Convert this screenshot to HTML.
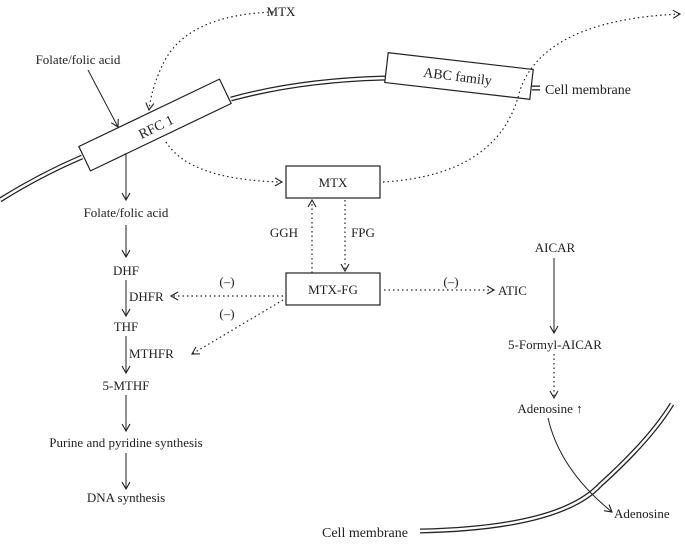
<!DOCTYPE html>
<html><head><style>
html,body{margin:0;padding:0;background:#fff;}
svg{display:block;}
text{font-family:"Liberation Serif",serif;font-size:13px;fill:#222;}
</style></head><body>
<svg width="685" height="545" viewBox="0 0 685 545" xmlns="http://www.w3.org/2000/svg">
<defs>
<marker id="a" markerWidth="10" markerHeight="10" refX="8" refY="5" orient="auto" markerUnits="userSpaceOnUse">
<path d="M1,1 L8,5 L1,9" fill="none" stroke="#222" stroke-width="1.1"/></marker>
</defs>
<g fill="none" stroke="#222">
<path d="M0,200 Q40,175 82,157" stroke-width="5"/>
<path d="M0,200 Q40,175 82,157" stroke="#fff" stroke-width="2.4"/>
<path d="M231,99 Q300,80 387,78" stroke-width="5"/>
<path d="M231,99 Q300,80 387,78" stroke="#fff" stroke-width="2.4"/>
<path d="M532,88 L540,88" stroke-width="5"/>
<path d="M532,88 L540,88" stroke="#fff" stroke-width="2.4"/>
<path d="M420,531 Q560,528 600,485 Q650,440 672,404" stroke-width="5"/>
<path d="M420,531 Q560,528 600,485 Q650,440 672,404" stroke="#fff" stroke-width="2.4"/>
<g transform="translate(155,125) rotate(-25.6)"><rect x="-78" y="-13.5" width="156" height="27" fill="#fff" stroke-width="1.2"/></g>
<g transform="translate(459,76) rotate(6.6)"><rect x="-73" y="-15" width="146" height="30" fill="#fff" stroke-width="1.2"/></g>
<rect x="286" y="166" width="94" height="32" fill="#fff" stroke-width="1.2"/>
<rect x="286" y="273" width="94" height="32" fill="#fff" stroke-width="1.2"/>
<path d="M88,70 L118,127" marker-end="url(#a)"/>
<path d="M126,154 L126,200" marker-end="url(#a)"/>
<path d="M126,225 L126,257" marker-end="url(#a)"/>
<path d="M126,280 L126,316" marker-end="url(#a)"/>
<path d="M126,336 L126,373" marker-end="url(#a)"/>
<path d="M126,395 L126,431" marker-end="url(#a)"/>
<path d="M126,453 L126,489" marker-end="url(#a)"/>
<path d="M554,258 L554,333" marker-end="url(#a)"/>
<path d="M548,418 Q560,470 612,512" marker-end="url(#a)"/>
<g stroke-dasharray="1.5,3" stroke-width="1.2">
<path d="M273,12 Q190,15 165,60 Q152,85 149,110" marker-end="url(#a)"/>
<path d="M166,142 Q190,180 282,182" marker-end="url(#a)"/>
<path d="M383,182 Q500,175 520,90 Q545,20 680,14" marker-end="url(#a)"/>
<path d="M312,273 L312,200" marker-end="url(#a)"/>
<path d="M345,200 L345,271" marker-end="url(#a)"/>
<path d="M283,296 L171,296" marker-end="url(#a)"/>
<path d="M283,300 L192,354" marker-end="url(#a)"/>
<path d="M384,290 L494,290" marker-end="url(#a)"/>
<path d="M554,354 L554,398" marker-end="url(#a)"/>
</g>
</g>
<text x="78" y="64" text-anchor="middle">Folate/folic acid</text>
<text x="281" y="16" text-anchor="middle">MTX</text>
<text transform="translate(158,131) rotate(-26)" text-anchor="middle" style="font-size:14px">RFC 1</text>
<text transform="translate(457,81) rotate(7)" text-anchor="middle" style="font-size:14px">ABC family</text>
<text x="545" y="94" style="font-size:14px">Cell membrane</text>
<text x="333" y="187" text-anchor="middle">MTX</text>
<text x="333" y="294" text-anchor="middle">MTX-FG</text>
<text x="284" y="237" text-anchor="middle">GGH</text>
<text x="363" y="237" text-anchor="middle">FPG</text>
<text x="126" y="217" text-anchor="middle">Folate/folic acid</text>
<text x="126" y="275" text-anchor="middle">DHF</text>
<text x="129" y="301">DHFR</text>
<text x="126" y="331" text-anchor="middle">THF</text>
<text x="129" y="358">MTHFR</text>
<text x="126" y="390" text-anchor="middle">5-MTHF</text>
<text x="126" y="447" text-anchor="middle">Purine and pyridine synthesis</text>
<text x="126" y="502" text-anchor="middle">DNA synthesis</text>
<text x="227" y="286" text-anchor="middle">(–)</text>
<text x="227" y="318" text-anchor="middle">(–)</text>
<text x="451" y="286" text-anchor="middle">(–)</text>
<text x="498" y="295">ATIC</text>
<text x="555" y="252" text-anchor="middle">AICAR</text>
<text x="555" y="349" text-anchor="middle">5-Formyl-AICAR</text>
<text x="550" y="413" text-anchor="middle">Adenosine ↑</text>
<text x="614" y="518">Adenosine</text>
<text x="322" y="537" style="font-size:14px">Cell membrane</text>
</svg>
</body></html>
